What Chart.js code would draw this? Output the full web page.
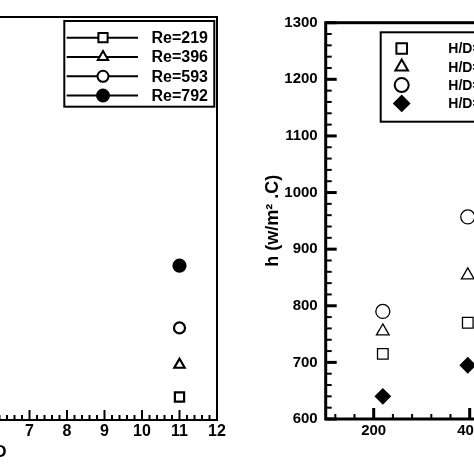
<!DOCTYPE html>
<html>
<head>
<meta charset="utf-8">
<script src="https://cdn.jsdelivr.net/npm/chart.js@4"></script>
<style>
  html, body { margin: 0; padding: 0; background: #fff; }
  body { width: 474px; height: 474px; overflow: hidden; position: relative; }
  canvas { position: absolute; top: 0; }
  #leftChart { left: -300px; }
  #rightChart { left: 230px; }
</style>
</head>
<body>
<canvas id="leftChart" width="530" height="474"></canvas>
<canvas id="rightChart" width="560" height="474"></canvas>
<script>
// ---------------- left panel: h against H/D, one series per Re ----------------
const reLabels = ["Re=219", "Re=396", "Re=593", "Re=792"];
const hdValues = [11];
const hRe219 = [640];
const hRe396 = [696];
const hRe593 = [760];
const hRe792 = [868];
const hdTicks = [0, 1, 2, 3, 4, 5, 6, 7, 8, 9, 10, 11, 12];

// ---------------- right panel: h against Re, one series per H/D ----------------
const hdLabels = ["H/D=2", "H/D=4", "H/D=6", "H/D=11"];
const reValues = [219, 396];
const hSquare = [715, 770];
const hTriangle = [755, 854];
const hCircle = [790, 957];
const hDiamond = [640, 695];
const reTicks = [200, 400, 600, 800];

const hTicks = [600, 700, 800, 900, 1000, 1100, 1200, 1300];

Chart.defaults.font.family = "'Liberation Sans', Arial, sans-serif";
Chart.defaults.font.weight = "bold";
Chart.defaults.color = "#000";

function points(xs, ys) {
  return ys.map((y, i) => ({ x: xs[i], y: y }));
}

const plainLabel = (v) => String(v);

// frame round the plot area and ticks pointing inwards
const frameTicks = {
  id: "frameTicks",
  afterDatasetsDraw(chart, args, opts) {
    const ctx = chart.ctx;
    const a = chart.chartArea;
    ctx.save();
    ctx.strokeStyle = "#000";
    ctx.lineCap = "butt";
    ["x", "y"].forEach((key) => {
      const s = chart.scales[key];
      const o = opts[key];
      const first = Math.ceil(s.min / o.minor - 1e-9);
      const last = Math.floor(s.max / o.minor + 1e-9);
      for (let i = first; i <= last; i++) {
        const v = i * o.minor;
        const major = s.ticks.some((t) => Math.abs(t.value - v) < 1e-6);
        const len = major ? o.majorLen : o.minorLen;
        const p = s.getPixelForValue(v);
        ctx.lineWidth = major ? o.majorWidth : o.minorWidth;
        ctx.beginPath();
        if (key === "x") {
          ctx.moveTo(p, a.bottom);
          ctx.lineTo(p, a.bottom - len);
        } else {
          ctx.moveTo(a.left, p);
          ctx.lineTo(a.left + len, p);
        }
        ctx.stroke();
      }
    });
    ctx.lineWidth = opts.frameWidth;
    ctx.strokeRect(a.left, a.top, a.right - a.left, a.bottom - a.top);
    ctx.restore();
  },
};

// boxed legend drawn inside the plot
const boxLegend = {
  id: "boxLegend",
  afterDraw(chart, args, opts) {
    const ctx = chart.ctx;
    ctx.save();
    ctx.fillStyle = "#fff";
    ctx.fillRect(opts.x, opts.y, opts.w, opts.h);
    ctx.strokeStyle = "#000";
    ctx.lineWidth = opts.border;
    ctx.strokeRect(opts.x, opts.y, opts.w, opts.h);
    ctx.font = opts.font;
    ctx.textBaseline = "middle";
    ctx.textAlign = "left";
    chart.data.datasets.forEach((ds, i) => {
      const y = opts.rowTop + i * opts.rowGap;
      if (opts.line) {
        ctx.lineWidth = opts.line.width;
        ctx.beginPath();
        ctx.moveTo(opts.line.x1, y);
        ctx.lineTo(opts.line.x2, y);
        ctx.stroke();
      }
      ctx.fillStyle = ds.backgroundColor;
      ctx.strokeStyle = ds.borderColor;
      Chart.helpers.drawPoint(ctx, {
        pointStyle: ds.pointStyle,
        radius: ds.pointRadius,
        rotation: 0,
        borderWidth: ds.borderWidth,
      }, opts.markerX, y);
      ctx.fillStyle = "#000";
      ctx.strokeStyle = "#000";
      ctx.fillText(ds.label, opts.textX, y + 1);
    });
    ctx.restore();
  },
};

// ---------------------------------------------- left chart --------------------
const leftStyles = [
  { pointStyle: "rect", pointRadius: 6.5, fill: "#fff" },
  { pointStyle: "triangle", pointRadius: 6, fill: "#fff" },
  { pointStyle: "circle", pointRadius: 5.5, fill: "#fff" },
  { pointStyle: "circle", pointRadius: 6, fill: "#000" },
];
const leftSeries = [hRe219, hRe396, hRe593, hRe792];

new Chart(document.getElementById("leftChart"), {
  type: "scatter",
  data: {
    datasets: leftSeries.map((h, i) => ({
      label: reLabels[i],
      data: points(hdValues, h),
      pointStyle: leftStyles[i].pointStyle,
      pointRadius: leftStyles[i].pointRadius,
      backgroundColor: leftStyles[i].fill,
      borderColor: "#000",
      borderWidth: 2.2,
    })),
  },
  options: {
    responsive: false,
    animation: false,
    layout: { padding: { left: 0, top: 14.5, right: 13, bottom: 0 } },
    plugins: {
      legend: { display: false },
      tooltip: { enabled: false },
      frameTicks: {
        frameWidth: 2,
        x: { minor: 0.2, majorLen: 10, minorLen: 5, majorWidth: 2, minorWidth: 2 },
        y: { minor: 20, majorLen: 10, minorLen: 5, majorWidth: 2, minorWidth: 2 },
      },
      boxLegend: {
        x: 364.3, y: 21, w: 150, h: 85.7, border: 2,
        rowTop: 37.7, rowGap: 19.3,
        line: { x1: 366.7, x2: 438, width: 2 },
        markerX: 403, textX: 451.5,
        font: "bold 16px 'Liberation Sans', Arial, sans-serif",
      },
    },
    scales: {
      x: {
        type: "linear",
        min: 0,
        max: 12,
        afterBuildTicks: (s) => { s.ticks = hdTicks.map((v) => ({ value: v })); },
        afterFit: (s) => { s.height = 54; },
        grid: { display: false, drawTicks: false },
        border: { display: false },
        ticks: { padding: 2, font: { size: 16 }, callback: plainLabel },
        title: { display: true, text: "H/D", font: { size: 17 }, padding: { bottom: 11 } },
      },
      y: {
        type: "linear",
        min: 600,
        max: 1300,
        afterBuildTicks: (s) => { s.ticks = hTicks.map((v) => ({ value: v })); },
        afterFit: (s) => { s.width = 67; },
        grid: { display: false, drawTicks: false },
        border: { display: false },
        ticks: { padding: 8, font: { size: 15 }, callback: plainLabel },
        title: { display: true, text: "h (w/m² .C)", font: { size: 18 } },
      },
    },
  },
  plugins: [frameTicks, boxLegend],
});

// ---------------------------------------------- right chart -------------------
const rightStyles = [
  { pointStyle: "rect", pointRadius: 7.5, fill: "rgba(0,0,0,0)" },
  { pointStyle: "triangle", pointRadius: 7.3, fill: "rgba(0,0,0,0)" },
  { pointStyle: "circle", pointRadius: 7, fill: "rgba(0,0,0,0)" },
  { pointStyle: "rectRot", pointRadius: 7.5, fill: "#000" },
];
const rightSeries = [hSquare, hTriangle, hCircle, hDiamond];

new Chart(document.getElementById("rightChart"), {
  type: "scatter",
  data: {
    datasets: rightSeries.map((h, i) => ({
      label: hdLabels[i],
      data: points(reValues, h),
      pointStyle: rightStyles[i].pointStyle,
      pointRadius: rightStyles[i].pointRadius,
      backgroundColor: rightStyles[i].fill,
      borderColor: "#000",
      borderWidth: 1.3,
    })),
  },
  options: {
    responsive: false,
    animation: false,
    layout: { padding: { left: 0, top: 22.7, right: 80.3, bottom: 0 } },
    plugins: {
      legend: { display: false },
      tooltip: { enabled: false },
      frameTicks: {
        frameWidth: 3,
        x: { minor: 40, majorLen: 11, minorLen: 5, majorWidth: 3, minorWidth: 2 },
        y: { minor: 20, majorLen: 11, minorLen: 6, majorWidth: 3, minorWidth: 2 },
      },
      boxLegend: {
        x: 150.7, y: 32.3, w: 220, h: 89.4, border: 2,
        rowTop: 48.5, rowGap: 18.3,
        markerX: 171.7, textX: 218.3,
        font: "bold 14px 'Liberation Sans', Arial, sans-serif",
      },
    },
    scales: {
      x: {
        type: "linear",
        min: 100,
        max: 900,
        afterBuildTicks: (s) => { s.ticks = reTicks.map((v) => ({ value: v })); },
        afterFit: (s) => { s.height = 55; },
        grid: { display: false, drawTicks: false },
        border: { display: false },
        ticks: { padding: 3, font: { size: 15 }, callback: plainLabel },
        title: { display: true, text: "Re", font: { size: 17 }, padding: { bottom: 11 } },
      },
      y: {
        type: "linear",
        min: 600,
        max: 1300,
        afterBuildTicks: (s) => { s.ticks = hTicks.map((v) => ({ value: v })); },
        afterFit: (s) => { s.width = 95.7; },
        grid: { display: false, drawTicks: false },
        border: { display: false },
        ticks: { padding: 8, font: { size: 15 }, callback: plainLabel },
        title: { display: true, text: "h (w/m² .C)", font: { size: 18 }, padding: { top: 32 } },
      },
    },
  },
  plugins: [frameTicks, boxLegend],
});
</script>
</body>
</html>
